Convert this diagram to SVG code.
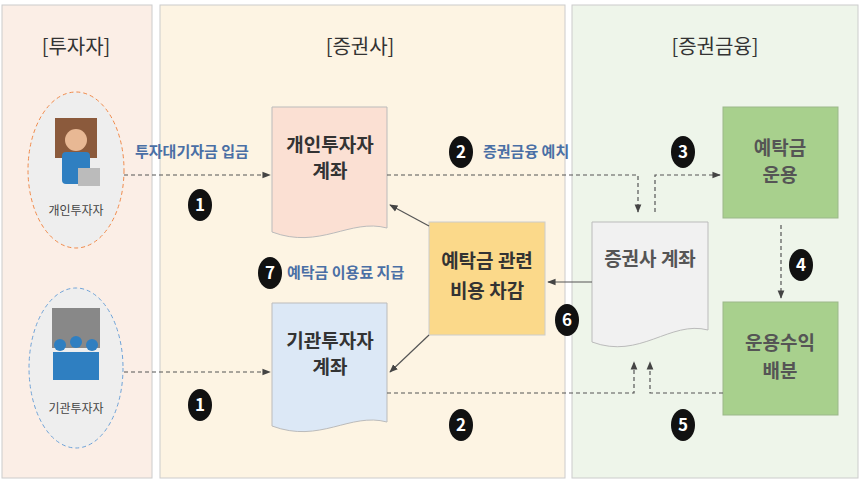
<svg xmlns="http://www.w3.org/2000/svg" width="860" height="482" viewBox="0 0 860 482">
<defs>
<style>
text{font-family:"Noto Sans CJK KR","Noto Sans",sans-serif;}
.t{font-size:20px;fill:#333;text-anchor:middle;}
.n{font-size:19px;font-weight:bold;fill:#333;text-anchor:middle;}
.l{font-size:15px;fill:#4a6fa5;font-weight:bold;}
.s{font-size:12px;fill:#444;text-anchor:middle;}
.d{fill:none;stroke:#555;stroke-width:1.2;stroke-dasharray:4 3;}
.sl{fill:none;stroke:#555;stroke-width:1.2;}
.b{fill:#111;}
.bt{font-size:17px;font-weight:bold;fill:#fff;text-anchor:middle;}
</style>
<marker id="a" viewBox="0 0 10 10" refX="9" refY="5" markerWidth="7" markerHeight="7" orient="auto"><path d="M0,1 L10,5 L0,9 z" fill="#444"/></marker>
</defs>
<rect width="860" height="482" fill="#fff"/>
<g id="panels">
<rect x="2" y="5" width="150" height="473" fill="#fbeee6" stroke="#ccc"/>
<rect x="160" y="5" width="405" height="473" fill="#fdf4e3" stroke="#ccc"/>
<rect x="572" y="5" width="286" height="473" fill="#eef5ea" stroke="#ccc"/>
<text class="t" x="76" y="54">[투자자]</text>
<text class="t" x="360" y="54">[증권사]</text>
<text class="t" x="715" y="54">[증권금융]</text>
</g>
<g id="individual">
<ellipse cx="76" cy="170" rx="48" ry="78" fill="#eeeeee" stroke="#f08a4b" stroke-dasharray="4 3"/>
<rect x="55" y="118" width="42" height="40" fill="#8b5a3c"/>
<circle cx="76" cy="140" r="11" fill="#e8b894"/>
<rect x="62" y="152" width="28" height="32" rx="4" fill="#2f7fc1"/>
<rect x="78" y="168" width="22" height="18" fill="#bbb"/>
<text class="s" x="76" y="215">개인투자자</text>
</g>
<g id="institutional">
<ellipse cx="76" cy="368" rx="47" ry="80" fill="#eeeeee" stroke="#6fa3d8" stroke-dasharray="4 3"/>
<rect x="52" y="308" width="48" height="40" fill="#888"/>
<circle cx="60" cy="345" r="6" fill="#2f7fc1"/><circle cx="76" cy="342" r="6" fill="#2f7fc1"/><circle cx="92" cy="345" r="6" fill="#2f7fc1"/>
<rect x="53" y="352" width="46" height="28" fill="#2f7fc1"/>
<text class="s" x="76" y="413">기관투자자</text>
</g>
<g id="doc1">
<path d="M272,107 H387 V228 C350,218 320,250 272,232 Z" fill="#fbe0d3" stroke="#bbb"/>
<text class="n" x="330" y="152">개인투자자</text><text class="n" x="330" y="178">계좌</text>
</g>
<g id="doc2">
<path d="M272,303 H387 V422 C350,412 320,444 272,426 Z" fill="#dce8f6" stroke="#bbb"/>
<text class="n" x="330" y="348">기관투자자</text><text class="n" x="330" y="374">계좌</text>
</g>
<g id="fee">
<rect x="429" y="222" width="116" height="113" fill="#fbd98a" stroke="#ccc"/>
<text class="n" x="487" y="268">예탁금 관련</text><text class="n" x="487" y="298">비용 차감</text>
</g>
<g id="sec">
<path d="M592,222 H708 V330 C670,320 640,360 592,342 Z" fill="#f1f1f1" stroke="#bbb"/>
<text class="n" x="650" y="266" style="fill:#555">증권사  계좌</text>
</g>
<g id="invest">
<rect x="723" y="107" width="115" height="111" fill="#a8d08d" stroke="#9bb88a"/>
<text class="n" x="780" y="155" style="fill:#555">예탁금</text><text class="n" x="780" y="182" style="fill:#555">운용</text>
</g>
<g id="profit">
<rect x="723" y="302" width="115" height="113" fill="#a8d08d" stroke="#9bb88a"/>
<text class="n" x="780" y="350" style="fill:#555">운용수익</text><text class="n" x="780" y="378" style="fill:#555">배분</text>
</g>
<g id="connectors">
<path class="d" d="M124,175 H270" marker-end="url(#a)"/>
<path class="d" d="M124,372 H270" marker-end="url(#a)"/>
<path class="d" d="M387,175 H638 V212" marker-end="url(#a)"/>
<path class="d" d="M655,212 V175 H720" marker-end="url(#a)"/>
<path class="d" d="M781,225 V298" marker-end="url(#a)"/>
<path class="d" d="M723,393 H650 V362" marker-end="url(#a)"/>
<path class="d" d="M387,393 H634 V362" marker-end="url(#a)"/>
<path class="sl" d="M592,282 H548" marker-end="url(#a)"/>
<path class="sl" d="M429,226 L390,205" marker-end="url(#a)"/>
<path class="sl" d="M429,335 L390,372" marker-end="url(#a)"/>
<text class="l" x="135" y="157">투자대기자금 입금</text>
<text class="l" x="483" y="157">증권금융 예치</text>
<text class="l" x="287" y="278">예탁금 이용료 지급</text>
</g>
<g id="badges">
<ellipse class="b" cx="200" cy="205" rx="12" ry="16"/><text class="bt" x="200" y="211">1</text>
<ellipse class="b" cx="200" cy="405" rx="12" ry="16"/><text class="bt" x="200" y="411">1</text>
<ellipse class="b" cx="461" cy="152" rx="12" ry="16"/><text class="bt" x="461" y="158">2</text>
<ellipse class="b" cx="461" cy="425" rx="12" ry="16"/><text class="bt" x="461" y="431">2</text>
<ellipse class="b" cx="683" cy="152" rx="12" ry="16"/><text class="bt" x="683" y="158">3</text>
<ellipse class="b" cx="801" cy="265" rx="12" ry="16"/><text class="bt" x="801" y="271">4</text>
<ellipse class="b" cx="683" cy="425" rx="12" ry="16"/><text class="bt" x="683" y="431">5</text>
<ellipse class="b" cx="567" cy="320" rx="12" ry="16"/><text class="bt" x="567" y="326">6</text>
<ellipse class="b" cx="270" cy="273" rx="12" ry="16"/><text class="bt" x="270" y="279">7</text>
</g>
</svg>
